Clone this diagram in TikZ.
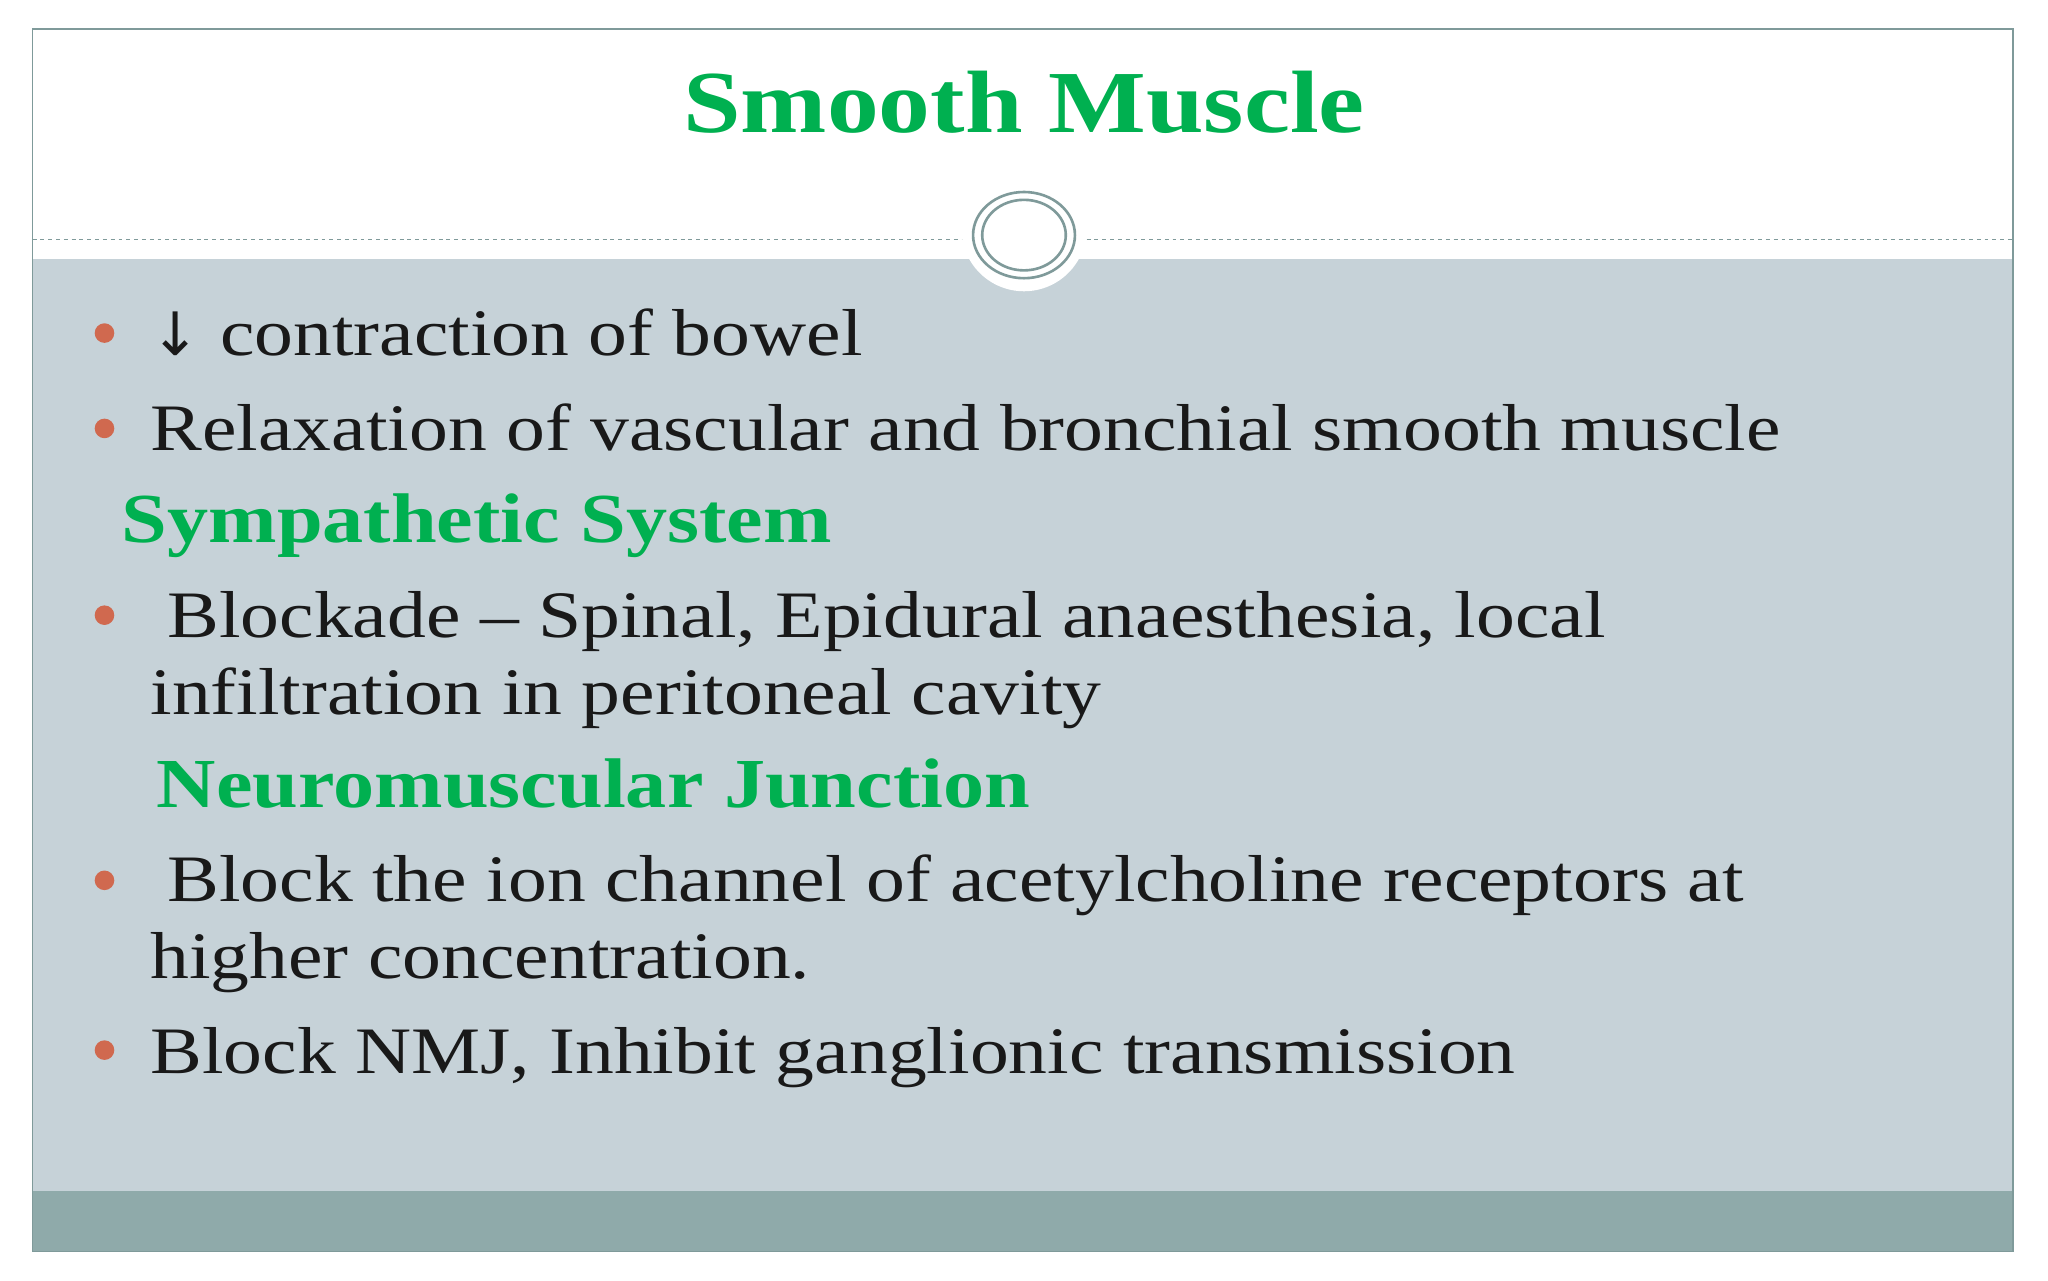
\documentclass[tikz,border=0pt]{standalone}
\usepackage{fontspec}
\setmainfont{Liberation Serif}[FakeStretch=1.17]
\newfontfamily\arrowfont{DejaVu Sans}
\begin{document}
\begin{tikzpicture}[x=1bp,y=-1bp,
  txt/.style={anchor=base west,inner sep=0pt,font=\fontsize{51}{56}\selectfont,text=black!90},
  head/.style={anchor=base west,inner sep=0pt,font=\fontsize{54}{58}\selectfont\bfseries},
  dot/.style={circle,fill=bul,inner sep=0pt,minimum size=15bp}]
\definecolor{bul}{HTML}{D0694F}
\definecolor{bodyc}{HTML}{C6D2D8}
\definecolor{band}{HTML}{8FAAAA}
\definecolor{edge}{HTML}{7F9A9A}
\definecolor{ttl}{HTML}{00B050}
\useasboundingbox (0,0) rectangle (1568,980);
\fill[white] (0,0) rectangle (1568,980);
\fill[bodyc] (25,198) rectangle (1541,912);
\fill[band] (25,912) rectangle (1541,958);
\draw[edge,line width=1.2bp] (25,22) rectangle (1541,958);
\draw[edge,dashed,line width=0.8bp] (25,183) -- (1541,183);
\fill[white] (784,175) circle (48);
\draw[edge,line width=2bp] (784,180) ellipse (39 and 33);
\draw[edge,line width=2bp] (784,180) ellipse (32 and 27);
\node[font=\fontsize{68}{72}\selectfont\bfseries,text=ttl] (title) at (784,78) {Smooth Muscle};
\foreach \n/\y in {1/255,2/328,3/471,4/674,5/804} \node[dot] (b\n) at (80,\y) {};
\node[txt] (l1) at (115,272) {{\arrowfont\fontsize{46}{50}\selectfont ↓} contraction of bowel};
\node[txt] (l2) at (115,345) {Relaxation of vascular and bronchial smooth muscle};
\node[head,text=ttl] (h1) at (93,415) {Sympathetic System};
\node[txt] (l3) at (128,488) {Blockade -- Spinal, Epidural anaesthesia, local};
\node[txt] (l3b) at (115,547) {infiltration in peritoneal cavity};
\node[head,text=ttl] (h2) at (120,618) {Neuromuscular Junction};
\node[txt] (l4) at (128,690) {Block the ion channel of acetylcholine receptors at};
\node[txt] (l4b) at (115,749) {higher concentration.};
\node[txt] (l5) at (115,822) {Block NMJ, Inhibit ganglionic transmission};
\end{tikzpicture}
\end{document}
